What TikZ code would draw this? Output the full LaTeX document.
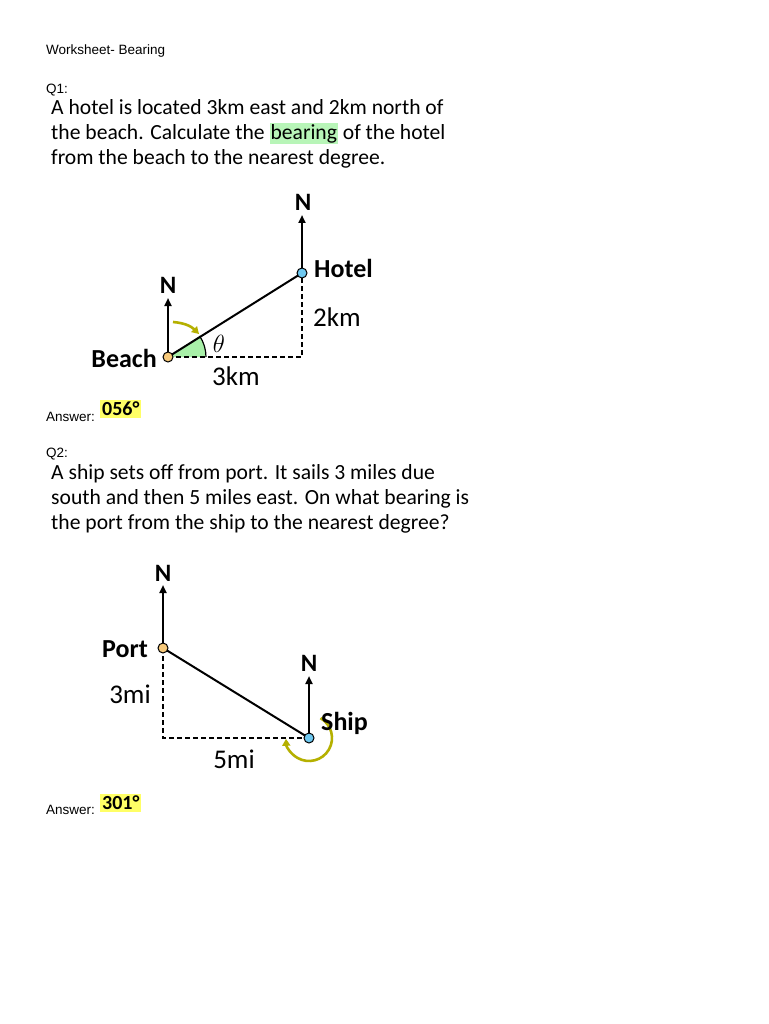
\documentclass[tikz,border=0pt]{standalone}
\usepackage{fontspec}
\setmainfont{Carlito}
\newfontfamily\arialf{Liberation Sans}
\usetikzlibrary{arrows.meta,calc}
\definecolor{hlgreen}{HTML}{B8F5B8}
\definecolor{hlyellow}{HTML}{FFFF66}
\definecolor{olivearrow}{HTML}{B5B000}
\definecolor{dotorange}{HTML}{F7C97A}
\definecolor{dotblue}{HTML}{6EC8F0}
\definecolor{wedge}{HTML}{A8F0A8}
\begin{document}
\begin{tikzpicture}[x=1pt,y=-1pt,
  small/.style={font=\arialf\fontsize{13.5}{15}\selectfont,anchor=west,inner sep=0},
  qtext/.style={font=\fontsize{21.6}{25}\selectfont,anchor=north west,inner sep=0,align=left},
  lbl/.style={font=\fontsize{27}{30}\selectfont,inner sep=0},
  blbl/.style={font=\bfseries\fontsize{26}{30}\selectfont,inner sep=0},
  nlbl/.style={font=\bfseries\fontsize{25}{28}\selectfont,inner sep=0},
  ans/.style={font=\bfseries\fontsize{20}{22}\selectfont,fill=hlyellow,inner sep=2pt,anchor=west},
  north/.style={line width=2pt,-{Triangle[length=8pt,width=7pt]}},
  seg/.style={line width=2pt},
  dsh/.style={line width=1.8pt,dash pattern=on 5pt off 3pt},
  dot/.style={circle,draw,line width=1pt,minimum size=10pt,inner sep=0}]
\useasboundingbox (0,0) rectangle (768,1024);
\fill[white] (0,0) rectangle (768,1024);
\node[small] (h) at (46,51) {Worksheet- Bearing};
\node[small] (q1) at (46,90) {Q1:};
\node[qtext] (t1) at (51,99) {A hotel is located 3km east and 2km north of\\the beach. Calculate the \setlength{\fboxsep}{1pt}\colorbox{hlgreen}{bearing} of the hotel\\from the beach to the nearest degree.};
% diagram 1
\coordinate (bc) at (168,357);
\coordinate (hc) at (302,273);
\coordinate (cr) at (302,357);
\fill[wedge] (bc) -- ++(38,0) arc[start angle=0,end angle=-33.7,radius=38] -- cycle;
\draw[line width=1.2pt] ($(bc)+(38,0)$) arc[start angle=0,end angle=-33.7,radius=38];
\draw[north] (bc) -- (168,298) coordinate (bn);
\node[nlbl] (bN) at (168,285) {N};
\draw[north] (hc) -- (302,215) coordinate (hn);
\node[nlbl] (hN) at (303,202) {N};
\draw[dsh] (bc) -- (cr) -- (hc);
\draw[seg] (bc) -- (hc);
\draw[olivearrow,line width=2.6pt,-{Triangle[length=7pt,width=8pt]}] (173,322) to[bend left=20] (199,334);
\node[dot,fill=dotorange] (beach) at (bc) {};
\node[dot,fill=dotblue] (hotel) at (hc) {};
\node[blbl,anchor=east] (bl) at (157,358) {Beach};
\node[blbl,anchor=west] (hl) at (314,268) {Hotel};
\node[lbl,font=\itshape\fontsize{24}{26}\selectfont] (th) at (219,344) {$\theta$};
\node[lbl] (d3) at (236,376) {3km};
\node[lbl] (d2) at (337,317) {2km};
\node[small] (a1l) at (46,417) {Answer:};
\node[ans] (a1) at (100,409) {056°};
% Q2
\node[small] (q2) at (46,454) {Q2:};
\node[qtext] (t2) at (51,464) {A ship sets off from port. It sails 3 miles due\\south and then 5 miles east. On what bearing is\\the port from the ship to the nearest degree?};
\coordinate (pc) at (163,648);
\coordinate (sc) at (309,738);
\coordinate (c2) at (163,738);
\draw[north] (pc) -- (163,585);
\node[nlbl] (pN) at (163,573) {N};
\draw[north] (sc) -- (309,676);
\node[nlbl] (sN) at (309,663) {N};
\draw[dsh] (pc) -- (c2) -- (sc);
\draw[seg] (pc) -- (sc);
\draw[olivearrow,line width=2.6pt,-{Triangle[length=7pt,width=8pt]}] ($(sc)+(-60:23)$) arc[start angle=-60,end angle=178,radius=23];
\node[dot,fill=dotorange] (port) at (pc) {};
\node[dot,fill=dotblue] (ship) at (sc) {};
\node[blbl,anchor=east] (pl) at (148,649) {Port};
\node[blbl,anchor=west] (sl) at (321,723) {Ship};
\node[lbl] (m3) at (130,694) {3mi};
\node[lbl] (m5) at (234,759) {5mi};
\node[small] (a2l) at (46,810) {Answer:};
\node[ans] (a2) at (100,803) {301°};
\end{tikzpicture}
\end{document}
